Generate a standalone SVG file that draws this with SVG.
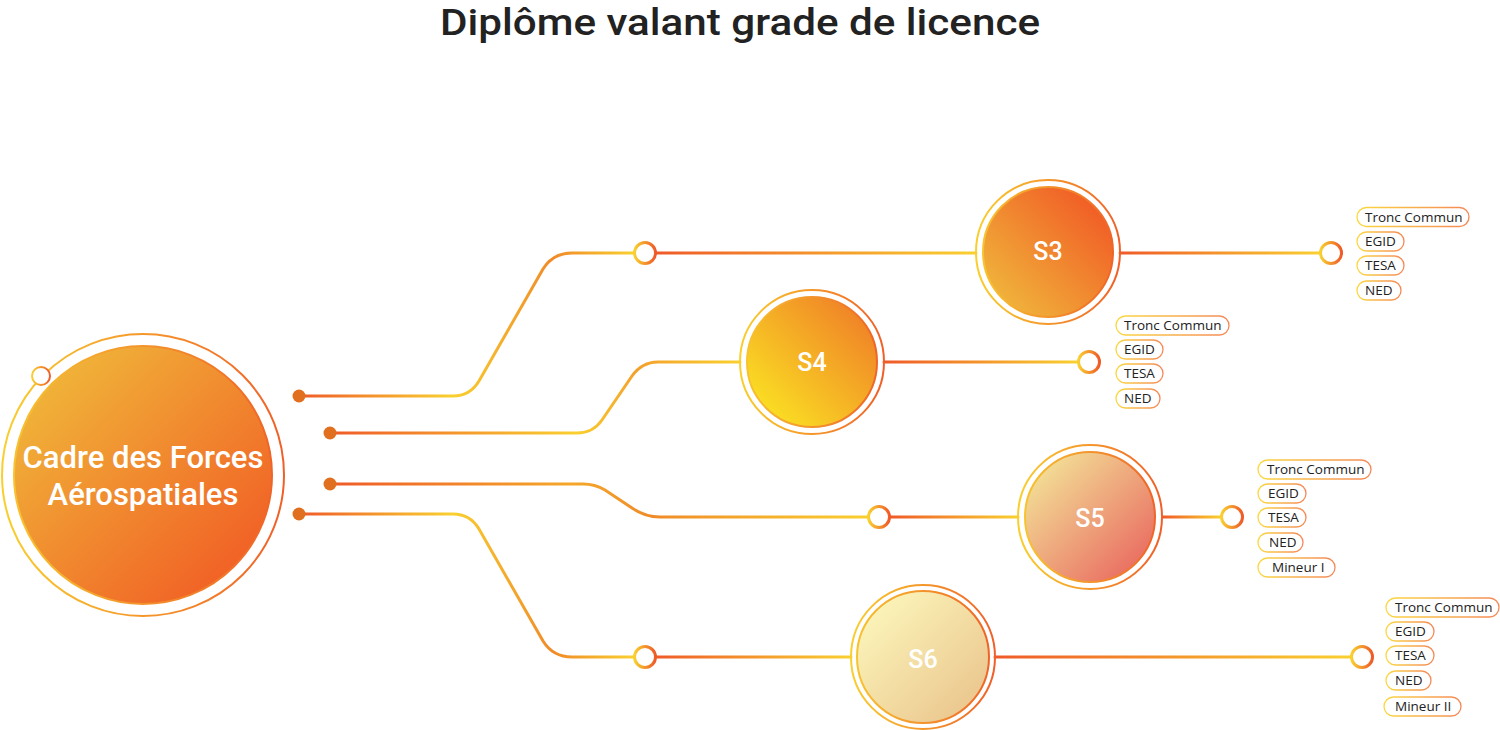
<svg xmlns="http://www.w3.org/2000/svg" width="1500" height="730" viewBox="0 0 1500 730">
<style>
.title{font-family:Roboto,"Liberation Sans",sans-serif;font-weight:500;font-size:37px;fill:#222;}
.big{font-family:Roboto,"Liberation Sans",sans-serif;font-weight:500;font-size:31px;fill:#fff;text-anchor:middle;}
.sem{font-family:Roboto,"Liberation Sans",sans-serif;font-weight:500;font-size:25px;fill:#fff;text-anchor:middle;dominant-baseline:central;}
.pill{fill:#fff;stroke:url(#pillG);stroke-width:1.3;}
.pt{font-family:"Open Sans","Liberation Sans",sans-serif;font-size:13.5px;fill:#222;}
.ring{fill:#fff;stroke:url(#ringG);stroke-width:3;}
.outer{fill:none;stroke:url(#outerG);stroke-width:2;}
.inner{stroke:url(#innerS);stroke-width:2;}
.line{fill:none;stroke-width:3;stroke-linecap:round;}
.dot{fill:#e07020;}
</style>
<defs>
<linearGradient id="outerG" x1="0" y1="0.5" x2="1" y2="0.5"><stop offset="0" stop-color="#f9cf2e"/><stop offset="1" stop-color="#f05f28"/></linearGradient>
<linearGradient id="innerS" x1="0" y1="0.5" x2="1" y2="0.5"><stop offset="0" stop-color="#f7c330"/><stop offset="1" stop-color="#ef6428"/></linearGradient>
<linearGradient id="ringG" x1="0" y1="0.5" x2="1" y2="0.5"><stop offset="0" stop-color="#f9d030"/><stop offset="1" stop-color="#ef5a28"/></linearGradient>
<linearGradient id="pillG" x1="0" y1="0.5" x2="1" y2="0.5"><stop offset="0" stop-color="#fbd840"/><stop offset="1" stop-color="#f58858"/></linearGradient>
<linearGradient id="mainF" x1="0" y1="0" x2="1" y2="1"><stop offset="0" stop-color="#f0c23c"/><stop offset="1" stop-color="#f15222"/></linearGradient>
<linearGradient id="s3F" x1="0" y1="1" x2="1" y2="0"><stop offset="0" stop-color="#f0c23e"/><stop offset="1" stop-color="#f14e22"/></linearGradient>
<linearGradient id="s4F" x1="0" y1="1" x2="1" y2="0"><stop offset="0" stop-color="#fcee22"/><stop offset="1" stop-color="#ee7428"/></linearGradient>
<linearGradient id="s5F" x1="0" y1="0" x2="1" y2="1"><stop offset="0" stop-color="#f4f09e"/><stop offset="1" stop-color="#e85c5a"/></linearGradient>
<linearGradient id="s6F" x1="0" y1="0" x2="1" y2="1"><stop offset="0" stop-color="#fefbc0"/><stop offset="1" stop-color="#e8c088"/></linearGradient>
<linearGradient id="l1" gradientUnits="userSpaceOnUse" x1="299" y1="0" x2="634" y2="0"><stop offset="0" stop-color="#ef5a28"/><stop offset="0.46" stop-color="#f9d030"/><stop offset="0.76" stop-color="#f08a28"/><stop offset="1" stop-color="#f9d030"/></linearGradient>
<linearGradient id="l2" gradientUnits="userSpaceOnUse" x1="330" y1="0" x2="740" y2="0"><stop offset="0" stop-color="#ef5a28"/><stop offset="0.6" stop-color="#f9d030"/><stop offset="0.75" stop-color="#f4a02a"/><stop offset="1" stop-color="#f9d030"/></linearGradient>
<linearGradient id="l3" gradientUnits="userSpaceOnUse" x1="330" y1="0" x2="868" y2="0"><stop offset="0" stop-color="#ef5a28"/><stop offset="0.45" stop-color="#f5a82a"/><stop offset="0.6" stop-color="#f08a28"/><stop offset="1" stop-color="#f9d030"/></linearGradient>
<linearGradient id="l4" gradientUnits="userSpaceOnUse" x1="299" y1="0" x2="634" y2="0"><stop offset="0" stop-color="#ef5a28"/><stop offset="0.46" stop-color="#f9d030"/><stop offset="0.76" stop-color="#f08a28"/><stop offset="1" stop-color="#f9d030"/></linearGradient>
<linearGradient id="a3" gradientUnits="userSpaceOnUse" x1="656" y1="0" x2="976" y2="0"><stop offset="0" stop-color="#ef5a28"/><stop offset="1" stop-color="#f9d030"/></linearGradient>
<linearGradient id="a5" gradientUnits="userSpaceOnUse" x1="890" y1="0" x2="1018" y2="0"><stop offset="0" stop-color="#ef5a28"/><stop offset="1" stop-color="#f9d030"/></linearGradient>
<linearGradient id="a6" gradientUnits="userSpaceOnUse" x1="656" y1="0" x2="851" y2="0"><stop offset="0" stop-color="#ef5a28"/><stop offset="1" stop-color="#f9d030"/></linearGradient>
<linearGradient id="b3" gradientUnits="userSpaceOnUse" x1="1120" y1="0" x2="1320" y2="0"><stop offset="0" stop-color="#ef5a28"/><stop offset="1" stop-color="#f9d030"/></linearGradient>
<linearGradient id="b4" gradientUnits="userSpaceOnUse" x1="884" y1="0" x2="1078" y2="0"><stop offset="0" stop-color="#ef5a28"/><stop offset="1" stop-color="#f9d030"/></linearGradient>
<linearGradient id="b5" gradientUnits="userSpaceOnUse" x1="1163" y1="0" x2="1221" y2="0"><stop offset="0" stop-color="#ef5a28"/><stop offset="1" stop-color="#f9d030"/></linearGradient>
<linearGradient id="b6" gradientUnits="userSpaceOnUse" x1="995" y1="0" x2="1351" y2="0"><stop offset="0" stop-color="#ef5a28"/><stop offset="1" stop-color="#f9d030"/></linearGradient>
</defs>
<rect width="1500" height="730" fill="#fff"/>
<g id="title"><text class="title" x="740" y="35" text-anchor="middle" textLength="600" lengthAdjust="spacingAndGlyphs">Diplôme valant grade de licence</text></g>

<g id="connectors">
<path class="line" stroke="url(#l1)" d="M299,396 H453 Q470,396 479,381 L543,269 Q553,253 572,253 H634"/>
<path class="line" stroke="url(#l2)" d="M330,433 H577 Q593,433 602,420 L632,376 Q642,362 658,362 H740"/>
<path class="line" stroke="url(#l3)" d="M330,484 H583 Q595,484 605,490 L632,508 Q645,517 660,517 H868"/>
<path class="line" stroke="url(#l4)" d="M299,514 H453 Q470,514 479,529 L543,641 Q553,657 572,657 H634"/>
<path class="line" stroke="url(#a3)" d="M656,253 H976"/>
<path class="line" stroke="url(#a5)" d="M890,517 H1018"/>
<path class="line" stroke="url(#a6)" d="M656,657 H851"/>
<path class="line" stroke="url(#b3)" d="M1120,253 H1320"/>
<path class="line" stroke="url(#b4)" d="M884,362 H1078"/>
<path class="line" stroke="url(#b5)" d="M1163,517 H1221"/>
<path class="line" stroke="url(#b6)" d="M995,657 H1351"/>
<circle class="dot" cx="299" cy="396" r="6.5"/>
<circle class="dot" cx="330" cy="433" r="6.5"/>
<circle class="dot" cx="330" cy="484" r="6.5"/>
<circle class="dot" cx="299" cy="514" r="6.5"/>
<circle class="ring" cx="645" cy="253" r="10.5"/>
<circle class="ring" cx="879" cy="517" r="10.5"/>
<circle class="ring" cx="645" cy="657" r="10.5"/>
<circle class="ring" cx="1331" cy="253" r="10.5"/>
<circle class="ring" cx="1089" cy="362" r="10.5"/>
<circle class="ring" cx="1232" cy="517" r="10.5"/>
<circle class="ring" cx="1362" cy="657" r="10.5"/>
</g>

<g id="main">
<circle class="outer" cx="143" cy="475" r="141"/>
<circle class="inner" cx="143" cy="475" r="129" fill="url(#mainF)"/>
<circle cx="41" cy="376" r="9" fill="#fff" stroke="url(#ringG)" stroke-width="2"/>
<text class="big" x="143" y="468">Cadre des Forces</text>
<text class="big" x="143" y="505">Aérospatiales</text>
</g>

<g id="s3">
<circle class="outer" cx="1048" cy="252" r="72"/>
<circle class="inner" cx="1048" cy="252" r="65" fill="url(#s3F)"/>
<text class="sem" x="1048" y="251">S3</text>
</g>
<g id="s4">
<circle class="outer" cx="812" cy="362" r="72"/>
<circle class="inner" cx="812" cy="362" r="65" fill="url(#s4F)"/>
<text class="sem" x="812" y="362">S4</text>
</g>
<g id="s5">
<circle class="outer" cx="1090" cy="517" r="72"/>
<circle class="inner" cx="1090" cy="517" r="65" fill="url(#s5F)"/>
<text class="sem" x="1090" y="518">S5</text>
</g>
<g id="s6">
<circle class="outer" cx="923" cy="657" r="72"/>
<circle class="inner" cx="923" cy="657" r="66" fill="url(#s6F)"/>
<text class="sem" x="923" y="659">S6</text>
</g>

<g id="s3-tags">
<g id="s3-tc"><rect class="pill" x="1357" y="207.5" width="112" height="19" rx="9.5"/><text class="pt" x="1365" y="221.5">Tronc Commun</text></g>
<g id="s3-egid"><rect class="pill" x="1357" y="232" width="47" height="19" rx="9.5"/><text class="pt" x="1365" y="246">EGID</text></g>
<g id="s3-tesa"><rect class="pill" x="1357" y="256" width="47" height="19" rx="9.5"/><text class="pt" x="1365" y="270">TESA</text></g>
<g id="s3-ned"><rect class="pill" x="1357" y="281" width="44" height="19" rx="9.5"/><text class="pt" x="1365" y="295">NED</text></g>
</g>
<g id="s4-tags">
<g id="s4-tc"><rect class="pill" x="1116" y="316" width="113" height="19" rx="9.5"/><text class="pt" x="1124" y="330">Tronc Commun</text></g>
<g id="s4-egid"><rect class="pill" x="1116" y="340" width="47" height="19" rx="9.5"/><text class="pt" x="1124" y="354">EGID</text></g>
<g id="s4-tesa"><rect class="pill" x="1116" y="364" width="47" height="19" rx="9.5"/><text class="pt" x="1124" y="378">TESA</text></g>
<g id="s4-ned"><rect class="pill" x="1116" y="389" width="44" height="19" rx="9.5"/><text class="pt" x="1124" y="403">NED</text></g>
</g>
<g id="s5-tags">
<g id="s5-tc"><rect class="pill" x="1258" y="460" width="113" height="19" rx="9.5"/><text class="pt" x="1267" y="474">Tronc Commun</text></g>
<g id="s5-egid"><rect class="pill" x="1258" y="484" width="48" height="19" rx="9.5"/><text class="pt" x="1268" y="498">EGID</text></g>
<g id="s5-tesa"><rect class="pill" x="1258" y="508" width="48" height="19" rx="9.5"/><text class="pt" x="1268" y="522">TESA</text></g>
<g id="s5-ned"><rect class="pill" x="1258" y="533" width="45" height="19" rx="9.5"/><text class="pt" x="1269" y="547">NED</text></g>
<g id="s5-min"><rect class="pill" x="1258" y="558" width="77" height="19" rx="9.5"/><text class="pt" x="1272" y="572">Mineur I</text></g>
</g>
<g id="s6-tags">
<g id="s6-tc"><rect class="pill" x="1386" y="598" width="113" height="19" rx="9.5"/><text class="pt" x="1395" y="612">Tronc Commun</text></g>
<g id="s6-egid"><rect class="pill" x="1386" y="622" width="48" height="19" rx="9.5"/><text class="pt" x="1395" y="636">EGID</text></g>
<g id="s6-tesa"><rect class="pill" x="1386" y="646" width="48" height="19" rx="9.5"/><text class="pt" x="1395" y="660">TESA</text></g>
<g id="s6-ned"><rect class="pill" x="1386" y="671" width="45" height="19" rx="9.5"/><text class="pt" x="1395" y="685">NED</text></g>
<g id="s6-min"><rect class="pill" x="1384" y="697" width="77" height="19" rx="9.5"/><text class="pt" x="1395" y="711">Mineur II</text></g>
</g>
</svg>
